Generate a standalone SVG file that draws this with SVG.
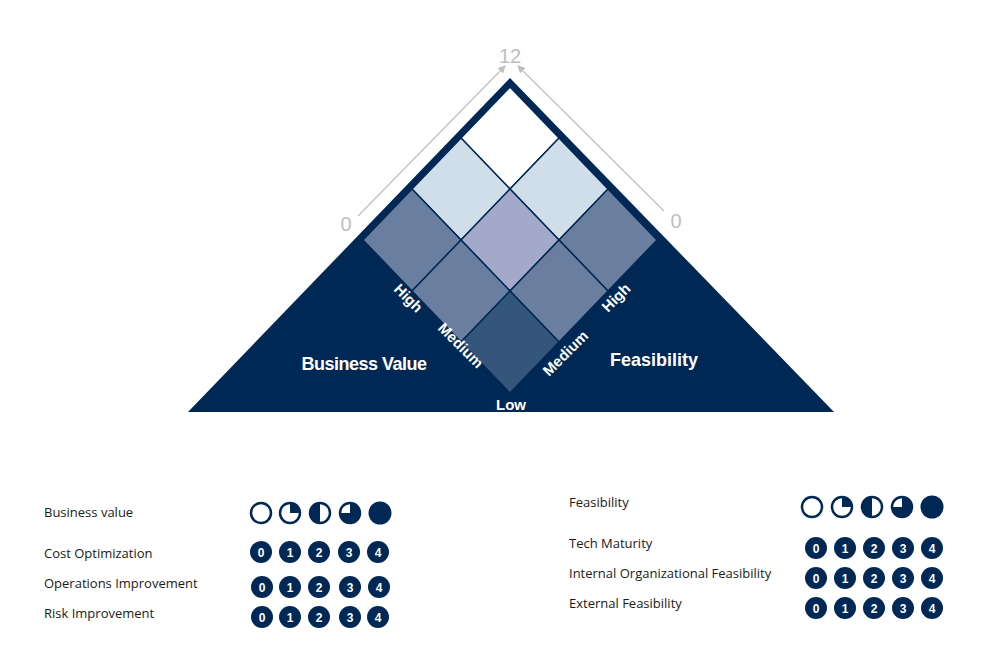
<svg xmlns="http://www.w3.org/2000/svg" width="1001" height="652" viewBox="0 0 1001 652">
<defs>
<style>
.lbl{font-family:"Open Sans","Liberation Sans",sans-serif;font-size:13px;fill:#1a1a1a}
.w{font-family:"Liberation Sans",Arial,sans-serif;font-weight:bold;fill:#fff}
.ax{font-family:"Liberation Sans",Arial,sans-serif;font-size:20px;fill:#BFBFBF}
.cell{stroke:#002855;stroke-width:1.5}
.n{fill:#002855}
.nt{font-family:"Liberation Sans",Arial,sans-serif;font-weight:bold;font-size:12px;fill:#fff;text-anchor:middle}
.ring{fill:#fff;stroke:#002855;stroke-width:2.5}
</style>
<marker id="ah" markerWidth="8" markerHeight="8" refX="7" refY="4" orient="auto" markerUnits="userSpaceOnUse"><path d="M0,0 L8,4 L0,8 Z" fill="#BFBFBF"/></marker>
</defs>
<g id="triangle">
<polygon points="510,78 834,412 188,412" fill="#002855"/>
</g>
<g id="grid">
<path class="cell" fill="#FFFFFF" d="M510,87 l49,51 l-49,51 l-49,-51 Z"/>
<path class="cell" fill="#D0DEE9" d="M461,138 l49,51 l-49,51 l-49,-51 Z"/>
<path class="cell" fill="#D0DEE9" d="M559,138 l49,51 l-49,51 l-49,-51 Z"/>
<path class="cell" fill="#A2A9C9" d="M510,189 l49,51 l-49,51 l-49,-51 Z"/>
<path class="cell" fill="#6A7FA0" d="M412,189 l49,51 l-49,51 l-49,-51 Z"/>
<path class="cell" fill="#6A7FA0" d="M608,189 l49,51 l-49,51 l-49,-51 Z"/>
<path class="cell" fill="#6A7FA0" d="M461,240 l49,51 l-49,51 l-49,-51 Z"/>
<path class="cell" fill="#6A7FA0" d="M559,240 l49,51 l-49,51 l-49,-51 Z"/>
<path class="cell" fill="#34567A" d="M510,291 l49,51 l-49,51 l-49,-51 Z"/>
</g>
<g id="connectors">
<line x1="358" y1="216" x2="505" y2="66" stroke="#BFBFBF" stroke-width="1.2" marker-end="url(#ah)"/>
<line x1="664" y1="211" x2="518" y2="66" stroke="#BFBFBF" stroke-width="1.2" marker-end="url(#ah)"/>
</g>
<g id="axis-labels">
<text class="ax" x="346" y="231" text-anchor="middle">0</text>
<text class="ax" x="676" y="228" text-anchor="middle">0</text>
<text class="ax" x="510" y="63" text-anchor="middle">12</text>
</g>
<g id="labels">
<text class="w" font-size="15" transform="translate(393,290) rotate(45)">High</text>
<text class="w" font-size="15" transform="translate(437,329) rotate(45)">Medium</text>
<text class="w" font-size="15" transform="translate(608,313) rotate(-45)">High</text>
<text class="w" font-size="15" transform="translate(549,377) rotate(-45)">Medium</text>
<text class="w" font-size="15" x="511" y="410" text-anchor="middle">Low</text>
<text class="w" font-size="18" x="364" y="370" text-anchor="middle" letter-spacing="-0.5">Business Value</text>
<text class="w" font-size="18" x="654" y="366" text-anchor="middle">Feasibility</text>
</g>
<g id="legend-left">
<text class="lbl" x="44" y="517">Business value</text>
<text class="lbl" x="44" y="558">Cost Optimization</text>
<text class="lbl" x="44" y="588">Operations Improvement</text>
<text class="lbl" x="44" y="618">Risk Improvement</text>
<circle class="ring" cx="261" cy="513" r="10"/>
<circle class="ring" cx="290" cy="513" r="10"/><path class="n" d="M290,513 L290,503 A10,10 0 0 1 300,513 Z"/>
<circle class="ring" cx="320" cy="513" r="10"/><path class="n" d="M320,503 A10,10 0 0 0 320,523 Z"/>
<circle class="ring" cx="350" cy="513" r="10"/><path class="n" d="M350,513 L350,503 A10,10 0 1 1 340,513 Z"/>
<circle class="n" cx="380" cy="513" r="11.5"/>
<circle class="n" cx="261" cy="552" r="11"/><text class="nt" x="261" y="557">0</text>
<circle class="n" cx="290" cy="552" r="11"/><text class="nt" x="290" y="557">1</text>
<circle class="n" cx="319" cy="552" r="11"/><text class="nt" x="319" y="557">2</text>
<circle class="n" cx="349" cy="552" r="11"/><text class="nt" x="349" y="557">3</text>
<circle class="n" cx="378" cy="552" r="11"/><text class="nt" x="378" y="557">4</text>
<circle class="n" cx="262" cy="587" r="11"/><text class="nt" x="262" y="592">0</text>
<circle class="n" cx="290" cy="587" r="11"/><text class="nt" x="290" y="592">1</text>
<circle class="n" cx="319" cy="587" r="11"/><text class="nt" x="319" y="592">2</text>
<circle class="n" cx="350" cy="587" r="11"/><text class="nt" x="350" y="592">3</text>
<circle class="n" cx="379" cy="587" r="11"/><text class="nt" x="379" y="592">4</text>
<circle class="n" cx="262" cy="617" r="11"/><text class="nt" x="262" y="622">0</text>
<circle class="n" cx="290" cy="617" r="11"/><text class="nt" x="290" y="622">1</text>
<circle class="n" cx="319" cy="617" r="11"/><text class="nt" x="319" y="622">2</text>
<circle class="n" cx="350" cy="617" r="11"/><text class="nt" x="350" y="622">3</text>
<circle class="n" cx="378" cy="617" r="11"/><text class="nt" x="378" y="622">4</text>
</g>
<g id="legend-right">
<text class="lbl" x="569" y="507">Feasibility</text>
<text class="lbl" x="569" y="548">Tech Maturity</text>
<text class="lbl" x="569" y="578">Internal Organizational Feasibility</text>
<text class="lbl" x="569" y="608">External Feasibility</text>
<circle class="ring" cx="812" cy="507" r="10"/>
<circle class="ring" cx="842" cy="507" r="10"/><path class="n" d="M842,507 L842,497 A10,10 0 0 1 852,507 Z"/>
<circle class="ring" cx="872" cy="507" r="10"/><path class="n" d="M872,497 A10,10 0 0 0 872,517 Z"/>
<circle class="ring" cx="902" cy="507" r="10"/><path class="n" d="M902,507 L902,497 A10,10 0 1 1 892,507 Z"/>
<circle class="n" cx="932" cy="507" r="11.5"/>
<circle class="n" cx="816" cy="548" r="11"/><text class="nt" x="816" y="553">0</text>
<circle class="n" cx="845" cy="548" r="11"/><text class="nt" x="845" y="553">1</text>
<circle class="n" cx="874" cy="548" r="11"/><text class="nt" x="874" y="553">2</text>
<circle class="n" cx="903" cy="548" r="11"/><text class="nt" x="903" y="553">3</text>
<circle class="n" cx="932" cy="548" r="11"/><text class="nt" x="932" y="553">4</text>
<circle class="n" cx="816" cy="578" r="11"/><text class="nt" x="816" y="583">0</text>
<circle class="n" cx="845" cy="578" r="11"/><text class="nt" x="845" y="583">1</text>
<circle class="n" cx="874" cy="578" r="11"/><text class="nt" x="874" y="583">2</text>
<circle class="n" cx="903" cy="578" r="11"/><text class="nt" x="903" y="583">3</text>
<circle class="n" cx="932" cy="578" r="11"/><text class="nt" x="932" y="583">4</text>
<circle class="n" cx="816" cy="608" r="11"/><text class="nt" x="816" y="613">0</text>
<circle class="n" cx="845" cy="608" r="11"/><text class="nt" x="845" y="613">1</text>
<circle class="n" cx="874" cy="608" r="11"/><text class="nt" x="874" y="613">2</text>
<circle class="n" cx="903" cy="608" r="11"/><text class="nt" x="903" y="613">3</text>
<circle class="n" cx="932" cy="608" r="11"/><text class="nt" x="932" y="613">4</text>
</g>
</svg>
